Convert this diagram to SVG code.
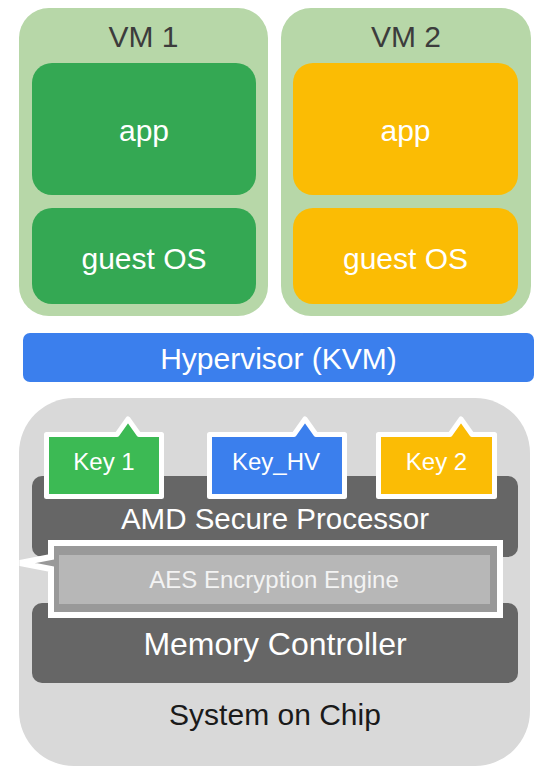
<svg xmlns="http://www.w3.org/2000/svg" width="544" height="771" viewBox="0 0 544 771">
  <style>
    text { font-family: "Liberation Sans", Arial, sans-serif; text-anchor: middle; }
    .vm { fill: #b7d7a8; }
    .green { fill: #34a853; }
    .yellow { fill: #fbbc04; }
    .title { font-size: 30px; fill: #3c3c3c; }
    .lbl { font-size: 30px; fill: #ffffff; }
    .key { stroke: #ffffff; stroke-width: 5; stroke-linejoin: round; }
    .keytxt { font-size: 24px; fill: #ffffff; }
    .dark { fill: #666666; }
  </style>
  <rect width="544" height="771" fill="#ffffff"/>

  <g id="vm1">
    <rect class="vm" x="19" y="8" width="249" height="308" rx="30"/>
    <text class="title" x="143.5" y="47">VM 1</text>
  </g>
  <g id="app1">
    <rect class="green" x="32" y="63" width="224" height="132" rx="20"/>
    <text class="lbl" x="144" y="141">app</text>
  </g>
  <g id="guestos1">
    <rect class="green" x="32" y="208" width="224" height="96" rx="20"/>
    <text class="lbl" x="144" y="269">guest OS</text>
  </g>

  <g id="vm2">
    <rect class="vm" x="281" y="8" width="250" height="308" rx="30"/>
    <text class="title" x="406" y="47">VM 2</text>
  </g>
  <g id="app2">
    <rect class="yellow" x="293" y="63" width="225" height="132" rx="20"/>
    <text class="lbl" x="405.5" y="141">app</text>
  </g>
  <g id="guestos2">
    <rect class="yellow" x="293" y="208" width="225" height="96" rx="20"/>
    <text class="lbl" x="405.5" y="269">guest OS</text>
  </g>

  <g id="hypervisor">
    <rect x="23" y="333" width="511" height="49" rx="7" fill="#3b7fed"/>
    <text class="lbl" x="278.5" y="369">Hypervisor (KVM)</text>
  </g>

  <g id="soc">
    <rect x="19" y="398" width="511" height="368" rx="55" fill="#d9d9d9"/>
    <text x="275" y="725" font-size="30" fill="#1a1a1a">System on Chip</text>
  </g>

  <g id="amd-sp">
    <rect class="dark" x="32" y="476" width="486" height="81" rx="10"/>
    <text class="lbl" x="275" y="529" font-size="29.5" style="font-size:29.5px">AMD Secure Processor</text>
  </g>

  <g id="memory-controller">
    <rect class="dark" x="32" y="603" width="486" height="80" rx="10"/>
    <text class="lbl" x="275" y="655" style="font-size:32px">Memory Controller</text>
  </g>

  <g id="aes">
    <path d="M51,543 H500 V615 H51 V569 L20,563 L51,557 Z" fill="#999999" stroke="#ffffff" stroke-width="6" stroke-linejoin="miter"/>
    <rect x="59" y="555" width="431" height="49" fill="#b7b7b7"/>
    <text x="274" y="588" font-size="24" fill="#f3f3f3">AES Encryption Engine</text>
  </g>

  <g id="key1">
    <path class="key" d="M46.5,434.5 H117 L128,419 L139,434.5 H161.5 V496.5 H46.5 Z" fill="#3cba54"/>
    <text class="keytxt" x="104" y="470">Key 1</text>
  </g>
  <g id="key-hv">
    <path class="key" d="M209.5,434.5 H294 L305,419 L316,434.5 H344.5 V496.5 H209.5 Z" fill="#3b7fed"/>
    <text class="keytxt" x="276" y="470">Key_HV</text>
  </g>
  <g id="key2">
    <path class="key" d="M378.5,434.5 H450 L461,419 L472,434.5 H494.5 V496.5 H378.5 Z" fill="#fbbc05"/>
    <text class="keytxt" x="436.5" y="470">Key 2</text>
  </g>

  <g id="connectors"/>
</svg>
